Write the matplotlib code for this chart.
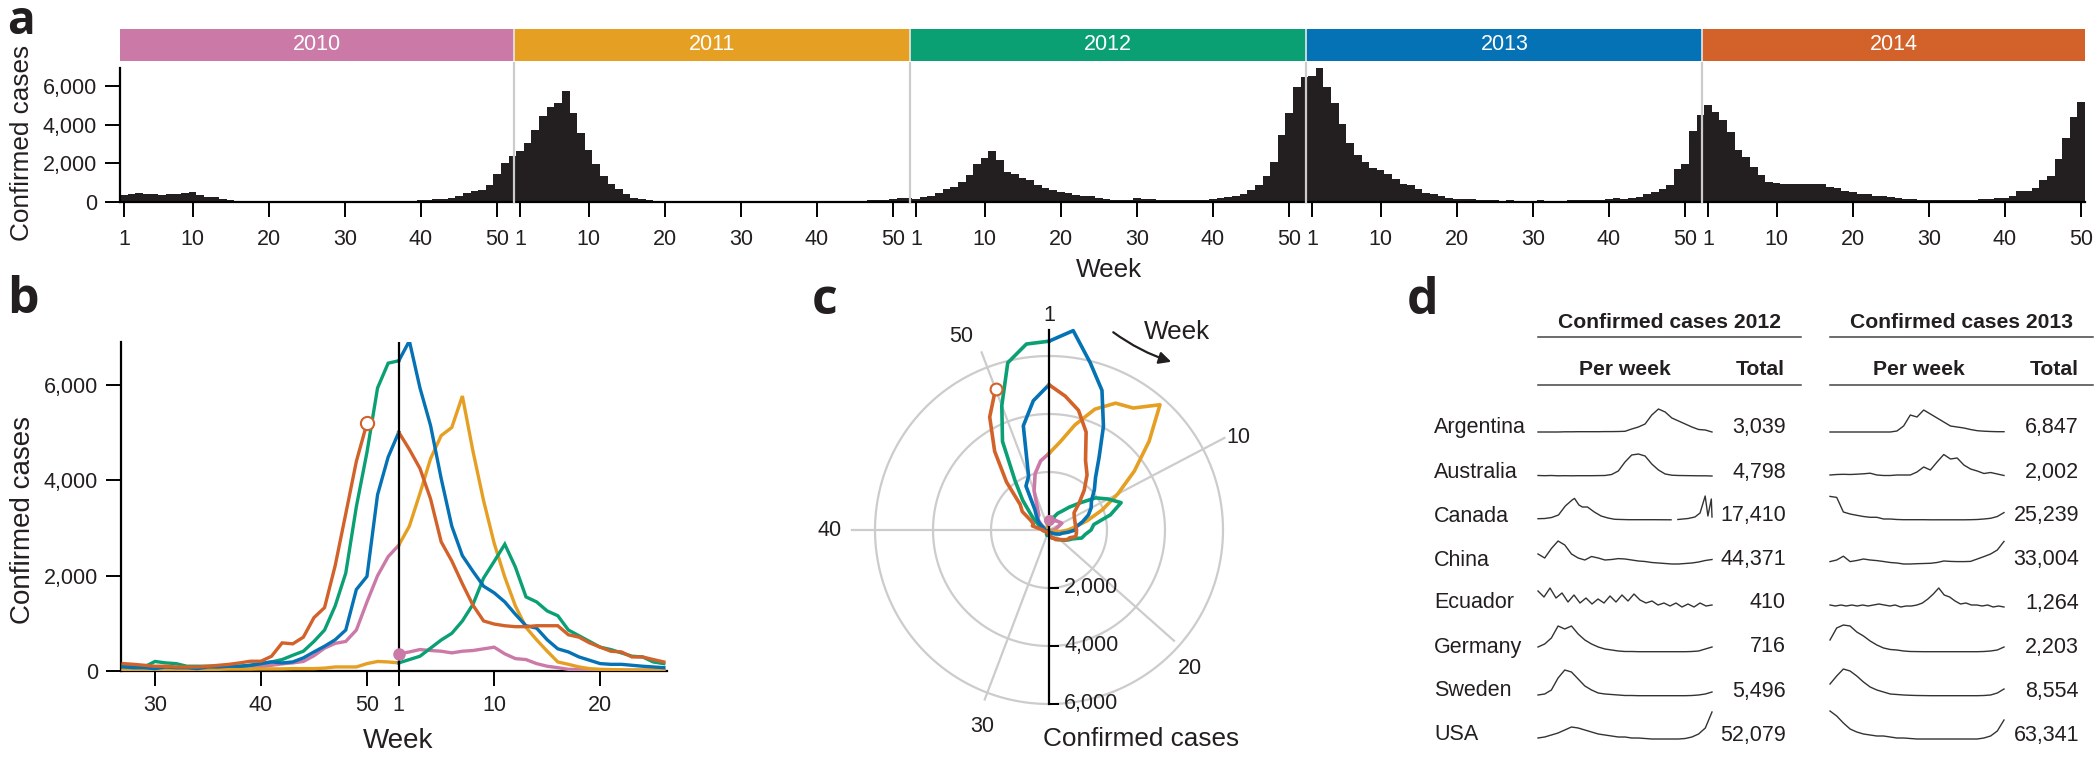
import numpy as np
import matplotlib
matplotlib.use("Agg")
import matplotlib.pyplot as plt

plt.rcParams['font.family'] = ['Liberation Sans', 'DejaVu Sans']

W, H = 2100, 757
BLACK = '#231f20'
GRAY = '#cccccc'

# =================================
# Weekly confirmed cases
# =================================
years = ['2010', '2011', '2012', '2013', '2014']
year_colors = ['#cb79a7', '#e5a024', '#0aa074', '#0472b4', '#d2622a']

cases_2010 = [360, 400, 450, 430, 415, 380, 415, 430, 465, 500, 360, 260, 240, 155, 100, 70, 35, 30, 25, 20,
              20, 20, 20, 20, 20, 20, 20, 20, 20, 20, 30, 30, 40, 45, 50, 60, 60, 65, 70, 90,
              120, 150, 170, 200, 320, 480, 580, 620, 860, 1450, 2000, 2400]
cases_2011 = [2640, 3040, 3730, 4455, 4940, 5110, 5770, 4610, 3575, 2680, 1970, 1365, 915, 655, 415, 190, 140, 85, 50, 35,
              30, 25, 20, 20, 20, 20, 20, 20, 20, 20, 25, 25, 30, 30, 30, 35, 40, 40, 40, 45,
              45, 45, 50, 50, 50, 60, 85, 85, 85, 155, 200, 190]
cases_2012 = [170, 240, 310, 480, 650, 790, 1050, 1400, 1950, 2300, 2660, 2180, 1555, 1450, 1260, 1160, 860, 740, 620, 500,
              450, 380, 310, 295, 190, 155, 100, 85, 85, 200, 170, 155, 100, 100, 100, 100, 100, 100, 120, 155,
              190, 240, 330, 415, 620, 860, 1365, 2055, 3450, 4590, 5940, 6460]
cases_2013 = [6510, 6925, 5940, 5150, 4040, 3040, 2420, 2090, 1780, 1640, 1450, 1190, 950, 900, 655, 465, 400, 295, 225, 155,
              140, 140, 120, 100, 85, 70, 85, 70, 70, 50, 85, 70, 70, 50, 85, 85, 100, 100, 120, 155,
              190, 170, 190, 275, 400, 520, 655, 860, 1710, 1985, 3700, 4490]
cases_2014 = [5010, 4650, 4250, 3610, 2710, 2310, 1830, 1380, 1050, 985, 950, 930, 930, 950, 950, 950, 760, 710, 590, 500,
              415, 400, 295, 295, 240, 190, 155, 140, 120, 100, 100, 85, 85, 85, 100, 120, 140, 170, 205, 205,
              310, 590, 570, 710, 1120, 1330, 2210, 3300, 4400, 5200]
all_years = [cases_2010, cases_2011, cases_2012, cases_2013, cases_2014]

week_ticks = [1, 10, 20, 30, 40, 50]
case_ticks = [0, 2000, 4000, 6000]

# polar spokes: week, and how far each one runs
spoke_weeks = [10, 20, 30, 40, 50]
spoke_reach = [6830, 5760, 6250, 6790, 6550]
spoke_label_r = [7250, 6750, 6900, 7550, 7300]
# nudges for the spoke labels, in points
spoke_label_nudge = [(2, -4), (-4, -6), (3, -7), (0, 0), (-9, -3)]

# =================================
# Panel d table
# =================================
countries = ['Argentina', 'Australia', 'Canada', 'China', 'Ecuador', 'Germany', 'Sweden', 'USA']
totals_2012 = ['3,039', '4,798', '17,410', '44,371', '410', '716', '5,496', '52,079']
totals_2013 = ['6,847', '2,002', '25,239', '33,004', '1,264', '2,203', '8,554', '63,341']

spark_2012 = [
    [0, 0, 0, 0, 0.2, 0.2, 0.3, 0.3, 0.3, 0.3, 0.4, 0.4, 0.5, 0.7, 3, 5, 8, 17, 23, 20, 14, 11, 8, 5, 2.5, 2, 0],
    [0.5, 0.3, 0.5, 0.2, 0.3, 0.2, 0.3, 0.3, 0.3, 0.4, 0.5, 1.5, 5, 14, 21, 22, 20, 12, 6, 2, 0.8, 0.5, 0.4, 0.3, 0.2, 0.2, 0],
    [1.3, 1.5, 2.5, 5, 14, 20, 21.6, 15, 13, 13, 8, 4, 2, 0.7, 0.3, 0.3, 0.2, np.nan, 0.5, 1.5, 3, 7, 24, 4, 21, 3],
    [10, 6, 15.5, 23, 19, 10, 6, 4, 7.5, 6, 4, 4.5, 5.4, 5, 4, 3, 2.5, 1.5, 1, 0.5, 0, 0, 0.5, 1, 2, 3.5, 4.5],
    [17, 11, 20, 10, 15, 6, 13, 5, 10, 4, 9, 5, 12, 6, 13, 7, 14, 8, 5, 7, 3, 5, 2, 5, 1, 4, 1, 5, 2, 3],
    [5, 8, 14, 26, 23, 26, 18, 12, 8, 5, 3, 2, 1, 0.5, 0.5, 0.3, 0.3, 0.3, 0.3, 0.3, 0.3, 0.3, 0.3, 0.5, 1, 3, 5],
    [1, 2, 6, 18, 26, 24, 17, 10, 6, 3, 2, 1.5, 1, 0.5, 0.5, 0.3, 0.3, 0.3, 0.3, 0.3, 0.3, 0.3, 0.3, 0.5, 1, 2, 4],
    [2, 3, 5, 7, 10, 13, 12, 10, 8, 6, 5, 4, 3, 3, 2, 2, 1.5, 1, 1, 1, 1, 1, 1.5, 3, 6, 12, 28],
]
# Canada 2012 doubles back on itself near the end, so it gets its own weeks
canada_2012_weeks = [1, 3, 5, 7, 9, 11, 11.7, 13, 14, 15.5, 17.5, 19.5, 21.5, 23.5, 27.5, 35, 40, 41, 42, 45, 47, 48.5, 50, 50.8, 51.8, 52]
spark_2013 = [
    [0, 0, 0, 0, 0, 0, 0, 0, 0, 0, 1, 6, 17, 15, 22, 18, 14, 10, 6, 5, 4, 2.5, 1.3, 0.8, 0.5, 0.3, 0.3],
    [1, 1.5, 1.7, 1.5, 1.8, 2.2, 2.8, 1, 0.5, 0.5, 1, 1, 1, 4, 9, 6, 14, 21.5, 17, 18, 11, 7, 5, 2.5, 3.5, 2, 0.5],
    [23.6, 22.6, 8, 6, 4.7, 3.5, 2.7, 2.7, 1, 1, 0.5, 0.3, 0.3, 0.3, 0.3, 0.2, 0.2, 0.2, 0.2, 0.2, 0.2, 0.3, 0.5, 1, 1.7, 3.5, 7.4],
    [2.4, 4, 7.8, 2.4, 3.5, 5, 4, 3.4, 2.5, 1.5, 1, 0, 0, 0.3, 0.5, 0.7, 1.5, 3, 2.6, 2.4, 2.4, 2.6, 5, 7.4, 10, 14, 22.6],
    [3, 2, 3, 2, 3, 2, 3, 2, 3, 4, 3, 2, 3, 1, 2, 2, 3, 5, 9, 14, 20, 13, 11, 7, 4, 5, 3, 3, 2, 3, 1, 2, 1],
    [12, 24, 27, 26, 20, 16, 11, 7, 4, 2.5, 2, 1, 0.5, 0.4, 0.3, 0.3, 0.3, 0.3, 0.3, 0.3, 0.3, 0.3, 0.3, 0.5, 1, 2, 5],
    [12, 20, 27, 25, 20, 14, 9, 6, 4, 2, 1.5, 1, 0.7, 0.5, 0.4, 0.3, 0.3, 0.3, 0.3, 0.3, 0.3, 0.3, 0.3, 0.5, 1, 3, 7],
    [29, 24, 17, 11, 8, 6, 5, 4, 4, 3, 2, 2, 1.5, 1, 1, 1, 1, 1, 1, 1, 1, 1, 1, 2, 4, 9, 20],
]
spark_baselines = [432, 476, 520, 564, 608, 652, 696, 740]
label_rows = [428, 472, 516, 560, 603, 647, 691, 735]


def px_rect(x0, y0, x1, y1):
    """Axes rectangle from pixel coordinates, y measured from the top."""
    return [x0 / W, 1 - y1 / H, (x1 - x0) / W, (y1 - y0) / H]


def px_text(x, y, s, **kw):
    kw.setdefault('ha', 'center')
    kw.setdefault('va', 'center')
    kw.setdefault('fontsize', 15.5)
    kw.setdefault('color', BLACK)
    fig.text(x / W, 1 - y / H, s, **kw)


def fmt(v):
    return f"{v:,}"


fig = plt.figure(figsize=(W / 100, H / 100), dpi=100)

# =================================
# Panel a: bars
# =================================
ax_a = fig.add_axes(px_rect(120.2, 68.3, 2085, 202))
weekly = np.concatenate(all_years)
ax_a.bar(np.arange(len(weekly)), weekly, width=1.0, color=BLACK, linewidth=0)
ax_a.set_xlim(-0.5, len(weekly) - 0.5)
ax_a.set_ylim(0, 6927)
for s in ['top', 'right']:
    ax_a.spines[s].set_visible(False)
for s in ['left', 'bottom']:
    ax_a.spines[s].set_linewidth(1.6)
ax_a.set_yticks(case_ticks, [fmt(v) for v in case_ticks])
a_ticks, a_labels = [], []
for k in range(5):
    for w in week_ticks:
        a_ticks.append(52 * k + w - 1)
        a_labels.append(str(w))
ax_a.set_xticks(a_ticks, a_labels)
ax_a.tick_params(axis='both', length=10.6, width=1.4, labelsize=15.5, labelcolor=BLACK)
ax_a.tick_params(axis='x', pad=9)
ax_a.tick_params(axis='y', pad=6)

# year strip, same x scale as the bars
ax_strip = fig.add_axes(px_rect(120.2, 29, 2085, 61))
edges = [-0.5] + [52 * k - 0.75 for k in range(1, 5)] + [len(weekly) - 0.5]
for k, yr in enumerate(years):
    ax_strip.axvspan(edges[k], edges[k + 1], color=year_colors[k], linewidth=0)
    ax_strip.text((edges[k] + edges[k + 1]) / 2, 0.5, yr, color='white', fontsize=15.5,
                  ha='center', va='center', transform=ax_strip.get_xaxis_transform())
ax_strip.set_xlim(-0.5, len(weekly) - 0.5)
ax_strip.set_ylim(0, 1)
ax_strip.axis('off')

# gray year separators run through the bars and the strip
for e in edges[1:-1]:
    ax_a.plot([e, e], [0, 7190], color=GRAY, lw=1.6, clip_on=False, zorder=5)
    ax_strip.plot([e, e], [0, 1], color='#e8e8e8', lw=1.2, zorder=5)

px_text(22, 143, 'Confirmed cases', rotation=90, fontsize=18.8)
px_text(1109, 270, 'Week', fontsize=18.8)

# =================================
# Panel b: overlaid seasons, week 1 in the middle
# =================================
ax_b = fig.add_axes(px_rect(121, 342, 667, 671))
ax_b.set_xlim(-26.2, 25.3)
ax_b.set_ylim(0, 6904)


def season_x(n):
    w = np.arange(1, n + 1)
    return np.where(w > 26, w - 53, w - 1)


for k, vals in enumerate(all_years):
    x = season_x(len(vals)).astype(float)
    y = np.array(vals, dtype=float)
    # split at the wrap so no line crosses the whole plot
    ax_b.plot(x[:26], y[:26], color=year_colors[k], lw=2.4, solid_joinstyle='miter', zorder=3 + k)
    tail_x, tail_y = x[26:], y[26:]
    if k < 4:
        tail_x = np.append(tail_x, 0)
        tail_y = np.append(tail_y, all_years[k + 1][0])
    ax_b.plot(tail_x, tail_y, color=year_colors[k], lw=2.4, solid_joinstyle='miter', zorder=3 + k)

ax_b.plot([0, 0], [0, 6904], color='black', lw=1.6, zorder=10)
ax_b.plot(0, cases_2010[0], 'o', color=year_colors[0], ms=8, zorder=11)
ax_b.plot(-3, cases_2014[-1], 'o', mfc='white', mec=year_colors[4], mew=1.5, ms=9.5, zorder=11)
for s in ['top', 'right']:
    ax_b.spines[s].set_visible(False)
for s in ['left', 'bottom']:
    ax_b.spines[s].set_linewidth(1.6)
b_weeks = [30, 40, 50, 1, 10, 20]
ax_b.set_xticks([w - 53 if w > 26 else w - 1 for w in b_weeks], [str(w) for w in b_weeks])
ax_b.set_yticks(case_ticks, [fmt(v) for v in case_ticks])
ax_b.tick_params(axis='both', length=10.6, width=1.4, labelsize=15.5, labelcolor=BLACK, pad=6)
ax_b.tick_params(axis='x', pad=7)
px_text(23, 520, 'Confirmed cases', rotation=90, fontsize=20)
px_text(398, 741, 'Week', fontsize=20)

# =================================
# Panel c: polar
# =================================
r_max = 6900
r_px = r_max / 2000 * 58
ax_c = fig.add_axes(px_rect(1049 - r_px, 530 - r_px, 1049 + r_px, 530 + r_px), projection='polar')
ax_c.set_theta_zero_location('N')
ax_c.set_theta_direction(-1)
ax_c.set_ylim(0, r_max)
ax_c.grid(False)
ax_c.set_xticks([])
ax_c.set_yticks([])
ax_c.spines['polar'].set_visible(False)
ax_c.patch.set_alpha(0)


def week_theta(w):
    return 2 * np.pi * (np.asarray(w, dtype=float) - 1) / 52


circle_t = np.linspace(0, 2 * np.pi, 361)
for v in case_ticks[1:]:
    ax_c.plot(circle_t, np.full_like(circle_t, v), color=GRAY, lw=1.6, zorder=1)
for w, reach, lab_r, nudge in zip(spoke_weeks, spoke_reach, spoke_label_r, spoke_label_nudge):
    th = week_theta(w)
    ax_c.plot([th, th], [0, reach], color=GRAY, lw=1.6, zorder=1)
    ax_c.annotate(str(w), xy=(th, lab_r), xytext=nudge, textcoords='offset points', annotation_clip=False,
                  fontsize=15.5, color=BLACK, ha='center', va='center')
ax_c.text(0, 7400, '1', fontsize=15.5, color=BLACK, ha='center', va='center')

for k, vals in enumerate(all_years):
    t = week_theta(np.arange(1, len(vals) + 1))
    r = np.array(vals, dtype=float)
    if k < 4:
        t = np.append(t, 2 * np.pi)
        r = np.append(r, all_years[k + 1][0])
    ax_c.plot(t, r, color=year_colors[k], lw=2.6, zorder=3 + k, clip_on=False)

ax_c.plot([0, 0], [0, r_max], color='black', lw=1.6, zorder=10, clip_on=False)
ax_c.plot([np.pi, np.pi], [0, 6000], color='black', lw=1.6, zorder=10)
for v in case_ticks[1:]:
    ax_c.plot(np.pi, v, marker=1, ms=7, mew=1.4, color='black', zorder=10)
    ax_c.annotate(fmt(v), xy=(np.pi, v), xytext=(11, 0), textcoords='offset points',
                  fontsize=15.5, color=BLACK, va='center', ha='left')
ax_c.plot(week_theta(1), cases_2010[0], 'o', color=year_colors[0], ms=7, zorder=11)
ax_c.plot(week_theta(50), cases_2014[-1], 'o', mfc='white', mec=year_colors[4], mew=1.5, ms=8.5, zorder=11)

# curved arrow showing direction of time
ax_c.annotate('', xy=(np.radians(36), 7170), xytext=(np.radians(18), 7170), annotation_clip=False,
              arrowprops=dict(arrowstyle='-|>', color=BLACK, lw=1.6, mutation_scale=18,
                              connectionstyle='arc3,rad=0.08', shrinkA=0, shrinkB=0))
px_text(1177, 332, 'Week', fontsize=18.8)
px_text(1141, 739, 'Confirmed cases', fontsize=18.8)

# =================================
# Panel d: small table of sparklines
# =================================
ax_rules = fig.add_axes([0, 0, 1, 1])
ax_rules.set_xlim(0, W)
ax_rules.set_ylim(H, 0)
ax_rules.axis('off')
ax_rules.patch.set_alpha(0)
for x0, x1 in [(1538, 1801), (1830, 2093)]:
    ax_rules.plot([x0, x1], [336.7, 336.7], color='#444444', lw=1.1)
    ax_rules.plot([x0, x1], [385.3, 385.3], color='#444444', lw=1.1)

px_text(1669, 322, 'Confirmed cases 2012', fontweight='bold', fontsize=15.2)
px_text(1961, 322, 'Confirmed cases 2013', fontweight='bold', fontsize=15.2)
px_text(1625, 369, 'Per week', fontweight='bold', fontsize=15.2)
px_text(1919, 369, 'Per week', fontweight='bold', fontsize=15.2)
px_text(1785, 369, 'Total', fontweight='bold', fontsize=15.2, ha='right')
px_text(2079, 369, 'Total', fontweight='bold', fontsize=15.2, ha='right')

for i, name in enumerate(countries):
    px_text(1434, label_rows[i], name, ha='left')
    px_text(1786, label_rows[i], totals_2012[i], ha='right')
    px_text(2079, label_rows[i], totals_2013[i], ha='right')
    for x0, series in [(1538, spark_2012[i]), (1830, spark_2013[i])]:
        ax_s = fig.add_axes(px_rect(x0, spark_baselines[i] - 40, x0 + 174, spark_baselines[i]))
        if name == 'Canada' and x0 == 1538:
            wk = canada_2012_weeks
        else:
            wk = np.linspace(1, 52, len(series))
        ax_s.plot(wk, series, color='#333333', lw=1.0, clip_on=False)
        ax_s.set_xlim(1, 52)
        ax_s.set_ylim(0, 40)
        ax_s.axis('off')
        ax_s.patch.set_alpha(0)

# =================================
# Panel letters
# =================================
for letter, x, y, size in [('a', 7, 34, 33), ('b', 7, 313, 36), ('c', 812, 314, 36), ('d', 1407, 314, 36)]:
    px_text(x, y, letter, ha='left', va='baseline', fontsize=size, fontweight='bold',
            family=['Open Sans', 'DejaVu Sans'])

fig.savefig('out.png', dpi=100, facecolor='white')
